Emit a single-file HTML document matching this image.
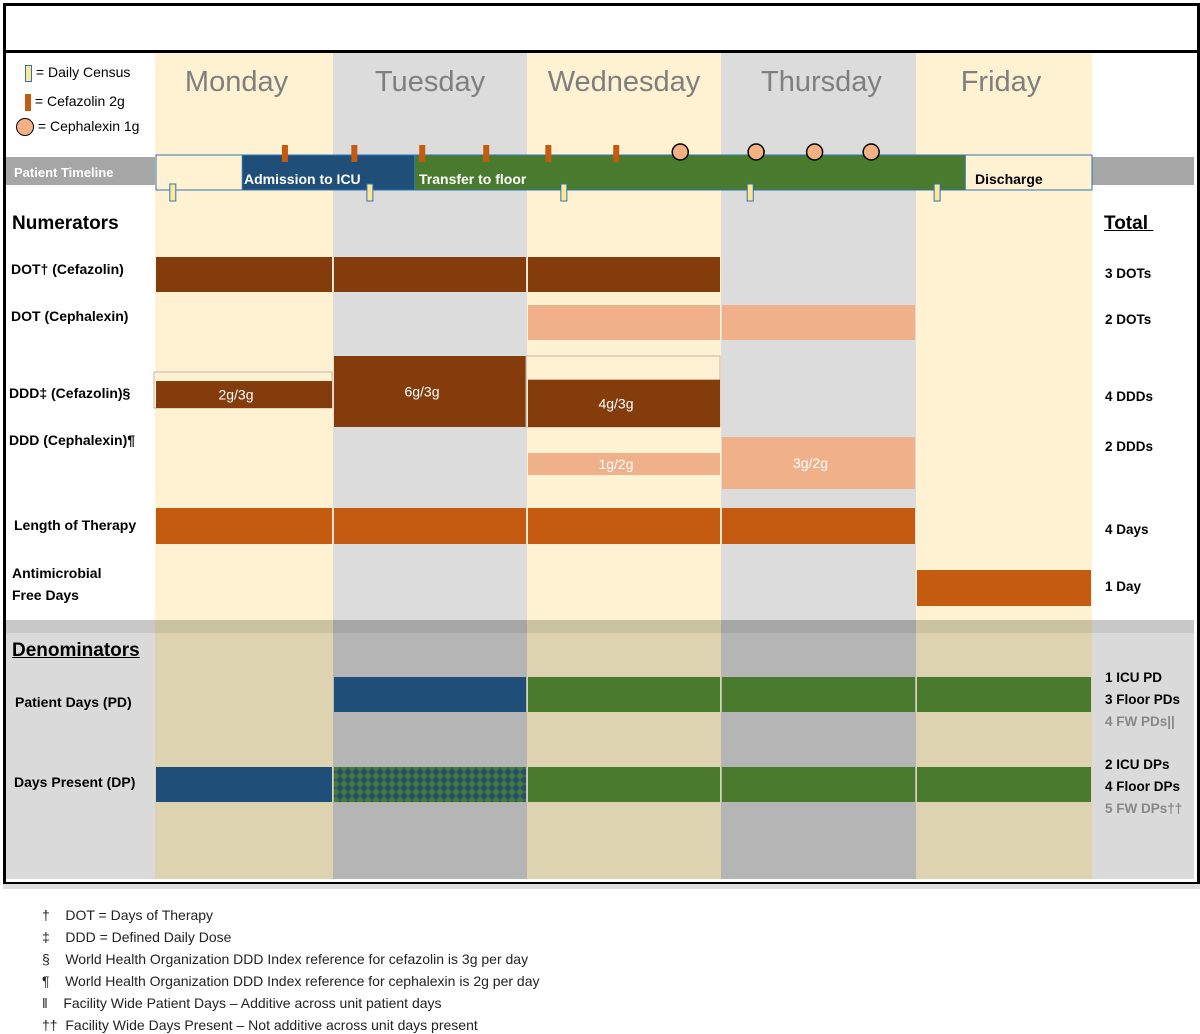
<!DOCTYPE html>
<html><head><meta charset="utf-8">
<style>
body{margin:0;width:1200px;height:1034px;background:#fff;font-family:"Liberation Sans",sans-serif;position:relative;overflow:hidden}
.a{position:absolute}
.lbl{position:absolute;font-weight:bold;font-size:14px;color:#000}
.tot{position:absolute;font-weight:bold;font-size:13.5px;left:1105px}
.day{position:absolute;top:66px;font-size:29px;color:#7f7f7f;text-align:center}
.fn{position:absolute;left:42px;font-size:14px;color:#222}
</style></head><body>
<div class="a" style="left:3px;top:3px;width:1191px;height:47px;border:3px solid #000;border-bottom:none"></div>
<div class="a" style="left:3px;top:50px;width:1191px;height:829px;border:3px solid #000;background:#fff"></div>
<div class="a" style="left:3px;top:884px;width:1197px;height:5px;background:#ddd"></div>
<svg class="a" id="chart" style="left:0;top:0" width="1200" height="890"></svg>

<div class="a" style="left:25px;top:64px;font-size:14px"><span style="display:inline-block;width:5px;height:15px;background:#ffe699;border:1px solid #2e75b6;vertical-align:middle"></span> = Daily Census</div>
<div class="a" style="left:25px;top:93px;font-size:14px"><span style="display:inline-block;width:6px;height:17px;background:#c55a11;vertical-align:middle"></span> = Cefazolin 2g</div>
<div class="a" style="left:16px;top:118px;font-size:14px"><span style="display:inline-block;width:16px;height:16px;border-radius:50%;background:#f4b183;border:1px solid #000;vertical-align:middle"></span> = Cephalexin 1g</div>

<div class="day" style="left:155px;width:163px">Monday</div>
<div class="day" style="left:333px;width:194px">Tuesday</div>
<div class="day" style="left:527px;width:194px">Wednesday</div>
<div class="day" style="left:721px;width:201px">Thursday</div>
<div class="day" style="left:916px;width:170px">Friday</div>

<div class="a" style="left:14px;top:165px;font-size:13px;font-weight:bold;color:#fff">Patient Timeline</div>
<div class="a" style="left:244px;top:171px;font-size:14px;font-weight:bold;color:#fff">Admission to ICU</div>
<div class="a" style="left:419px;top:171px;font-size:14px;font-weight:bold;color:#fff">Transfer to floor</div>
<div class="a" style="left:975px;top:171px;font-size:14px;font-weight:bold;color:#000">Discharge</div>

<div class="lbl" style="left:12px;top:213px;font-size:19px">Numerators</div>
<div class="lbl" style="left:1104px;top:213px;font-size:19px;text-decoration:underline">Total&nbsp;</div>
<div class="lbl" style="left:11px;top:261px">DOT† (Cefazolin)</div>
<div class="lbl" style="left:11px;top:308px">DOT (Cephalexin)</div>
<div class="lbl" style="left:9px;top:385px">DDD‡ (Cefazolin)§</div>
<div class="lbl" style="left:9px;top:432px">DDD (Cephalexin)¶</div>
<div class="lbl" style="left:14px;top:517px">Length of Therapy</div>
<div class="lbl" style="left:12px;top:562px;line-height:22px">Antimicrobial<br>Free Days</div>
<div class="lbl" style="left:12px;top:640px;font-size:19px;text-decoration:underline">Denominators</div>
<div class="lbl" style="left:15px;top:694px">Patient Days (PD)</div>
<div class="lbl" style="left:14px;top:774px">Days Present (DP)</div>

<div class="tot" style="top:266px">3 DOTs</div>
<div class="tot" style="top:312px">2 DOTs</div>
<div class="tot" style="top:389px">4 DDDs</div>
<div class="tot" style="top:439px">2 DDDs</div>
<div class="tot" style="top:522px">4 Days</div>
<div class="tot" style="top:579px">1 Day</div>
<div class="tot" style="top:670px">1 ICU PD</div>
<div class="tot" style="top:692px">3 Floor PDs</div>
<div class="tot" style="top:714px;color:#888">4 FW PDs||</div>
<div class="tot" style="top:757px">2 ICU DPs</div>
<div class="tot" style="top:779px">4 Floor DPs</div>
<div class="tot" style="top:801px;color:#888">5 FW DPs††</div>

<div class="fn" style="top:907px">†&nbsp;&nbsp;&nbsp;&nbsp;DOT = Days of Therapy</div>
<div class="fn" style="top:929px">‡&nbsp;&nbsp;&nbsp;&nbsp;DDD = Defined Daily Dose</div>
<div class="fn" style="top:951px">§&nbsp;&nbsp;&nbsp;&nbsp;World Health Organization DDD Index reference for cefazolin is 3g per day</div>
<div class="fn" style="top:973px">¶&nbsp;&nbsp;&nbsp;&nbsp;World Health Organization DDD Index reference for cephalexin is 2g per day</div>
<div class="fn" style="top:995px">‖&nbsp;&nbsp;&nbsp;&nbsp;Facility Wide Patient Days – Additive across unit patient days</div>
<div class="fn" style="top:1017px">††&nbsp;&nbsp;Facility Wide Days Present – Not additive across unit days present</div>

<script>
const days = ["Mon","Tue","Wed","Thu","Fri"];
const dayEdges = [155,333,527,721,916,1092];
const cefazolinDoses = [0.73,1.11,1.46,1.79,2.11,2.46];
const cephalexinDoses = [2.79,3.18,3.48,3.77];
const censusTimes = [0.1,1.19,2.19,3.15,4.12];
const dotCefazolin = [1,1,1,0,0];
const dotCephalexin = [0,0,1,1,0];
const dddCefazolin = [2,6,4,0,0];
const dddCephalexin = [0,0,1,3,0];
const lot = [1,1,1,1,0];
const afd = [0,0,0,0,1];
const pdUnit = ["none","icu","floor","floor","floor"];
const dpUnit = ["icu","both","floor","floor","floor"];
const NS="http://www.w3.org/2000/svg";
const svg=document.getElementById('chart');
function x(t){const i=Math.min(Math.floor(t),4);return dayEdges[i]+(t-i)*(dayEdges[i+1]-dayEdges[i]);}
function el(tag,attrs,name){const e=document.createElementNS(NS,tag);for(const k in attrs)e.setAttribute(k,attrs[k]);


svg.appendChild(e);return e;}
const defs=el('defs',{},'pattern-defs');
defs.innerHTML='<pattern id="chk" width="8" height="8" patternUnits="userSpaceOnUse"><rect width="8" height="8" fill="#4a7a2e"/><path d="M4 0L8 4L4 8L0 4Z" fill="#1f4e79"/></pattern>';
days.forEach((d,i)=>{
  el('rect',{x:dayEdges[i],y:53,width:dayEdges[i+1]-dayEdges[i],height:567,fill:i%2?'#dcdcdc':'#fff2d2'},'column-'+d);
  el('rect',{x:dayEdges[i],y:620,width:dayEdges[i+1]-dayEdges[i],height:259,fill:i%2?'#b5b5b5':'#ddd3b0'},'denom-column-'+d);
});
el('rect',{x:6,y:620,width:149,height:259,fill:'#dadada'},'denom-left-panel');
el('rect',{x:1092,y:620,width:102,height:259,fill:'#dadada'},'denom-right-panel');
el('rect',{x:6,y:620,width:1188,height:13,fill:'#000',opacity:0.08},'denom-divider');
el('rect',{x:6,y:157,width:149,height:28,fill:'#a6a6a6'},'timeline-label-bar');
el('rect',{x:1092,y:157,width:102,height:28,fill:'#a6a6a6'},'timeline-right-bar');
el('rect',{x:156,y:155,width:936,height:35,fill:'#fff2d2',stroke:'#2e75b6'},'timeline-box');
el('rect',{x:x(0.49),y:155,width:x(1.42)-x(0.49),height:35,fill:'#1f4e79',stroke:'#2e75b6'},'icu-stay');
el('rect',{x:x(1.42),y:155,width:x(4.28)-x(1.42),height:35,fill:'#4a7a2e',stroke:'#2e75b6'},'floor-stay');
cefazolinDoses.forEach((t,i)=>el('rect',{x:x(t)-3,y:145,width:6,height:17,fill:'#c55a11'},'cefazolin-dose-'+i));
cephalexinDoses.forEach((t,i)=>el('circle',{cx:x(t),cy:152,r:8,fill:'#f4b183',stroke:'#000','stroke-width':1.5},'cephalexin-dose-'+i));
censusTimes.forEach((t,i)=>el('rect',{x:x(t)-3,y:184,width:6,height:17,fill:'#ffe699',stroke:'#2e75b6'},'census-marker-'+i));
function bar(i,y,h,fill,name){return el('rect',{x:dayEdges[i]+1,y:y,width:dayEdges[i+1]-dayEdges[i]-2,height:h,fill:fill},name);}
function txt(i,y,s,name){const t=el('text',{x:(dayEdges[i]+dayEdges[i+1])/2-8,y:y,'text-anchor':'middle','font-size':14,fill:'#fff','font-family':'Liberation Sans, sans-serif'},name);t.textContent=s;}
dotCefazolin.forEach((v,i)=>{if(v)bar(i,257,35,'#843c0c','dot-cefazolin-'+days[i]);});
dotCephalexin.forEach((v,i)=>{if(v)bar(i,305,35,'#f0b08a','dot-cephalexin-'+days[i]);});
dddCefazolin.forEach((v,i)=>{if(!v)return;const H=71,yb=427,hh=H*v/6;
  if(v<6)el('rect',{x:dayEdges[i]-1,y:yb-H+(i==0?16:0),width:dayEdges[i+1]-dayEdges[i],height:H-(i==0?35:0),fill:'none',stroke:'#c9b3a6'},'ddd-cefazolin-outline-'+days[i]);
  const top=i==0?381:yb-hh; const h=i==0?27:hh;
  bar(i,top,h,'#843c0c','ddd-cefazolin-'+days[i]);txt(i,top+h/2+5,v+'g/3g','ddd-cefazolin-label-'+days[i]);});
dddCephalexin.forEach((v,i)=>{if(!v)return;const hh=v==1?22:52,top=v==1?453:437;
  bar(i,top,hh,'#f0b08a','ddd-cephalexin-'+days[i]);txt(i,top+hh/2+5,v+'g/2g','ddd-cephalexin-label-'+days[i]);});
lot.forEach((v,i)=>{if(v)bar(i,508,36,'#c55a11','lot-'+days[i]);});
afd.forEach((v,i)=>{if(v)bar(i,570,36,'#c55a11','afd-'+days[i]);});
const unitFill={icu:'#1f4e79',floor:'#4a7a2e',both:'url(#chk)'};
pdUnit.forEach((u,i)=>{if(u!=='none')bar(i,677,35,unitFill[u],'pd-'+days[i]);});
dpUnit.forEach((u,i)=>{if(u!=='none')bar(i,767,35,unitFill[u],'dp-'+days[i]);});
</script>
</body></html>
